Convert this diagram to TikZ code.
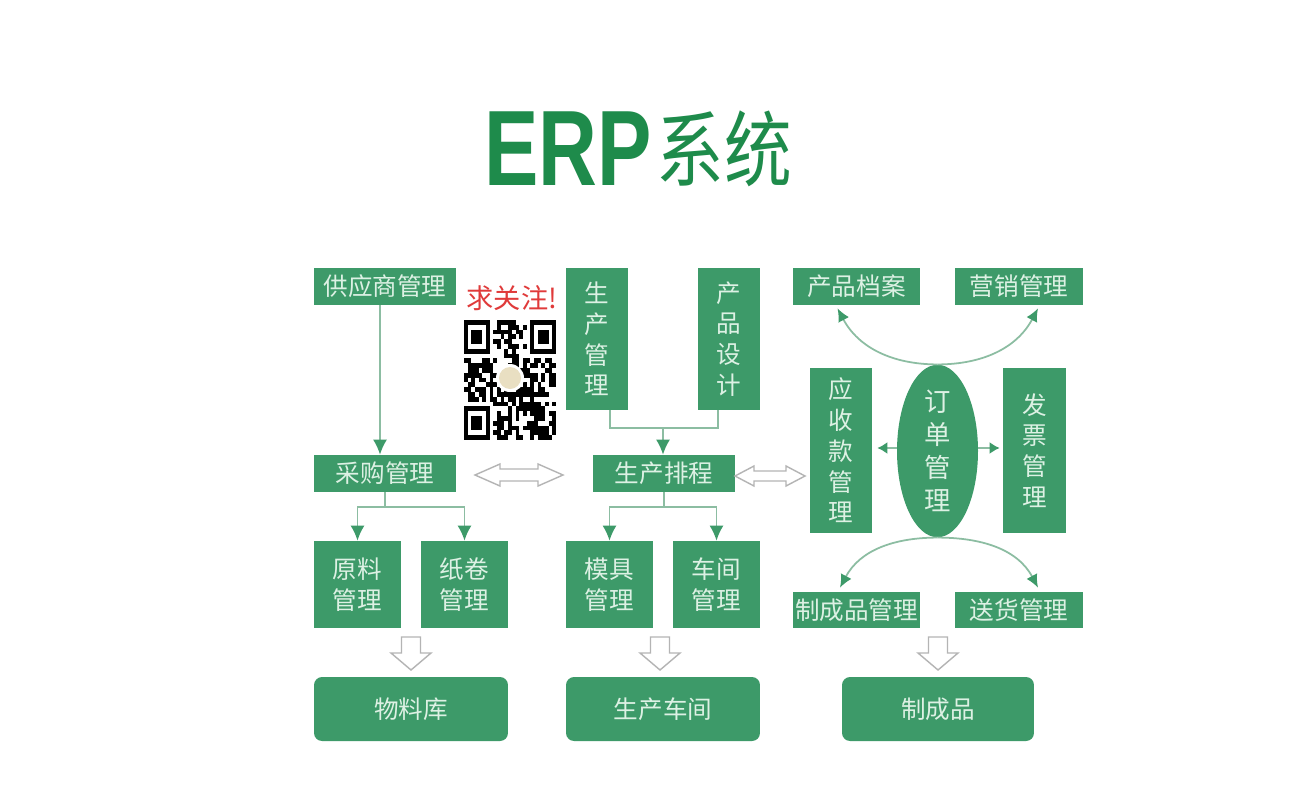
\documentclass[tikz,border=0pt]{standalone}
\usepackage{fontspec}
\usetikzlibrary{arrows.meta,shapes.geometric,calc}
\newfontfamily\cjk{Noto Sans CJK SC}
\newfontfamily\erpfont{Liberation Sans}
\definecolor{boxg}{HTML}{3D9A69}
\definecolor{boxt}{HTML}{DDF1E4}
\definecolor{titleg}{HTML}{1E8B4B}
\definecolor{lineg}{HTML}{8CBDA2}
\definecolor{hollowc}{HTML}{B4B4B4}
\definecolor{qrred}{HTML}{E03A3A}
\definecolor{logoc}{HTML}{E9DFC2}
\newcommand\hdbl[6]{%
  \draw[hollowarr] (#1,#3) -- (#1+#4,#3-#5) -- (#1+#4,#3-#6) -- (#2-#4,#3-#6) -- (#2-#4,#3-#5) -- (#2,#3) -- (#2-#4,#3+#5) -- (#2-#4,#3+#6) -- (#1+#4,#3+#6) -- (#1+#4,#3+#5) -- cycle;}
\newcommand\hdown[1]{%
  \draw[hollowarr] (#1-9.5,637) -- (#1+9.5,637) -- (#1+9.5,653) -- (#1+20,653) -- (#1,670) -- (#1-20,653) -- (#1-9.5,653) -- cycle;}
\begin{document}
\begin{tikzpicture}[x=0.02cm,y=-0.02cm,
  box/.style={fill=boxg, draw=none, text=boxt, inner sep=0pt, align=center,
    font=\cjk\fontsize{14}{17.5}\selectfont},
  hbox/.style={box, minimum width=2.84cm, minimum height=0.74cm},
  sbox/.style={box, minimum width=2.55cm, minimum height=0.74cm},
  vbox/.style={box, minimum width=1.24cm},
  qbox/.style={box, minimum width=1.74cm, minimum height=1.74cm},
  rbox/.style={box, rounded corners=0.16cm, minimum width=3.88cm, minimum height=1.28cm},
  conn/.style={draw=lineg, line width=1pt},
  >={Latex[length=0.3cm,width=0.28cm,color=boxg]},
  small/.tip={Latex[length=0.2cm,width=0.24cm,color=boxg]},
  mid/.tip={Latex[length=0.26cm,width=0.24cm,color=boxg]},
  hollowarr/.style={draw=hollowc, fill=white, line width=0.8pt, line join=miter}]
\fill[white] (0,0) rectangle (1297,811);
\useasboundingbox (0,0) rectangle (1297,811);

% title
\node[font=\erpfont\bfseries\fontsize{61}{61}\selectfont, text=titleg, xscale=0.76, inner sep=0pt] (erp) at (568,148.5) {ERP};
\node[font=\cjk\fontsize{47}{47}\selectfont, text=titleg, xscale=0.82, inner sep=0pt] (sys) at (724,148.5) {系统};

% QR code
\node[text=qrred, font=\cjk\fontsize{15.5}{15.5}\selectfont, inner sep=0pt] (qrt) at (512,298) {求关注!};
\pgfmathsetseed{11}
\foreach \i in {0,...,24}{\foreach \j in {0,...,24}{
  \pgfmathtruncatemacro\qskip{((\i<8)&&(\j<8)) || ((\i>16)&&(\j<8)) || ((\i<8)&&(\j>16))}
  \pgfmathsetmacro\qrnd{rnd}
  \ifnum\qskip=0 \ifdim\qrnd pt<0.56pt \fill[black] (464+\i*3.68,320+\j*4.8) rectangle ++(3.69,4.81); \fi\fi
}}
\foreach \qa/\qb in {0/0,18/0,0/18}{
  \fill[black] (464+\qa*3.68,320+\qb*4.8) rectangle ++(7*3.68,7*4.8);
  \fill[white] (464+\qa*3.68+3.68,320+\qb*4.8+4.8) rectangle ++(5*3.68,5*4.8);
  \fill[black] (464+\qa*3.68+7.36,320+\qb*4.8+9.6) rectangle ++(3*3.68,3*4.8);
}
\fill[white] (510,378) circle[radius=14];
\fill[logoc] (510,378) circle[radius=11];

% boxes
\node[hbox] (sup) at (385,286.5) {供应商管理};
\node[vbox, minimum height=2.84cm] (scm) at (597,339) {生\\产\\管\\理};
\node[vbox, minimum height=2.84cm] (pd) at (729,339) {产\\品\\设\\计};
\node[sbox] (pa) at (856.5,286.5) {产品档案};
\node[sbox] (mk) at (1019,286.5) {营销管理};
\node[vbox, minimum height=3.30cm] (ar) at (841,450.5) {应\\收\\款\\管\\理};
\node[ellipse, fill=boxg, text=boxt, inner sep=0pt, minimum width=1.62cm, minimum height=3.24cm, align=center,
  font=\cjk\fontsize{15}{18.8}\selectfont] (ord) at (937.5,451) {订\\单\\管\\理};
\node[vbox, minimum width=1.26cm, minimum height=3.30cm] (inv) at (1034.5,450.5) {发\\票\\管\\理};
\node[hbox] (pur) at (385,473.5) {采购管理};
\node[hbox] (sch) at (664,473.5) {生产排程};
\node[qbox] (raw) at (357.5,584.5) {原料\\管理};
\node[qbox] (pap) at (464.5,584.5) {纸卷\\管理};
\node[qbox] (mold) at (609.5,584.5) {模具\\管理};
\node[qbox] (ws) at (716.5,584.5) {车间\\管理};
\node[sbox, minimum height=0.72cm] (fg) at (856.5,610) {制成品管理};
\node[sbox, minimum height=0.72cm] (del) at (1019,610) {送货管理};
\node[rbox] (store) at (411,709) {物料库};
\node[rbox] (shop) at (663,709) {生产车间};
\node[rbox, minimum width=3.84cm] (prod) at (938,709) {制成品};

% connectors
\draw[conn,->] ($(sup.south)+(-5,0)$) -- ($(pur.north)+(-5,0)$);
\coordinate (j1) at (663,428);
\draw[conn] ($(scm.south)+(13,0)$) |- (j1) -| ($(pd.south)+(-11,0)$);
\draw[conn,->] (j1) -- (sch.north -| j1);
\draw[conn] (pur.south) -- ++(0,15) coordinate (j2);
\draw[conn,->] (j2) -| (raw.north);
\draw[conn,->] (j2) -| (pap.north);
\draw[conn] (sch.south) -- ++(0,15) coordinate (j3);
\draw[conn,->] (j3) -| (mold.north);
\draw[conn,->] (j3) -| (ws.north);
\draw[conn,-small] ($(ord.west)+(0,-3)$) -- ($(ar.east)+(5,-2.5)$);
\draw[conn,-small] ($(ord.east)+(0,-3)$) -- ($(inv.west)+(-3,-2.5)$);
\draw[conn,-mid] (ord.north) to[out=180,in=-62] ($(pa.south)+(-19,3)$);
\draw[conn,-mid] (ord.north) to[out=0,in=-118] ($(mk.south)+(19,3)$);
\draw[conn,-mid] (ord.south) to[out=180,in=62] ($(fg.north)+(-16.5,-4)$);
\draw[conn,-mid] (ord.south) to[out=0,in=118] ($(del.north)+(19,-4)$);

% hollow block arrows
\hdbl{475}{563}{475}{25}{11}{6}
\hdbl{735}{805}{476}{19}{10}{5}
\hdown{411}
\hdown{660}
\hdown{938}
\end{tikzpicture}
\end{document}
